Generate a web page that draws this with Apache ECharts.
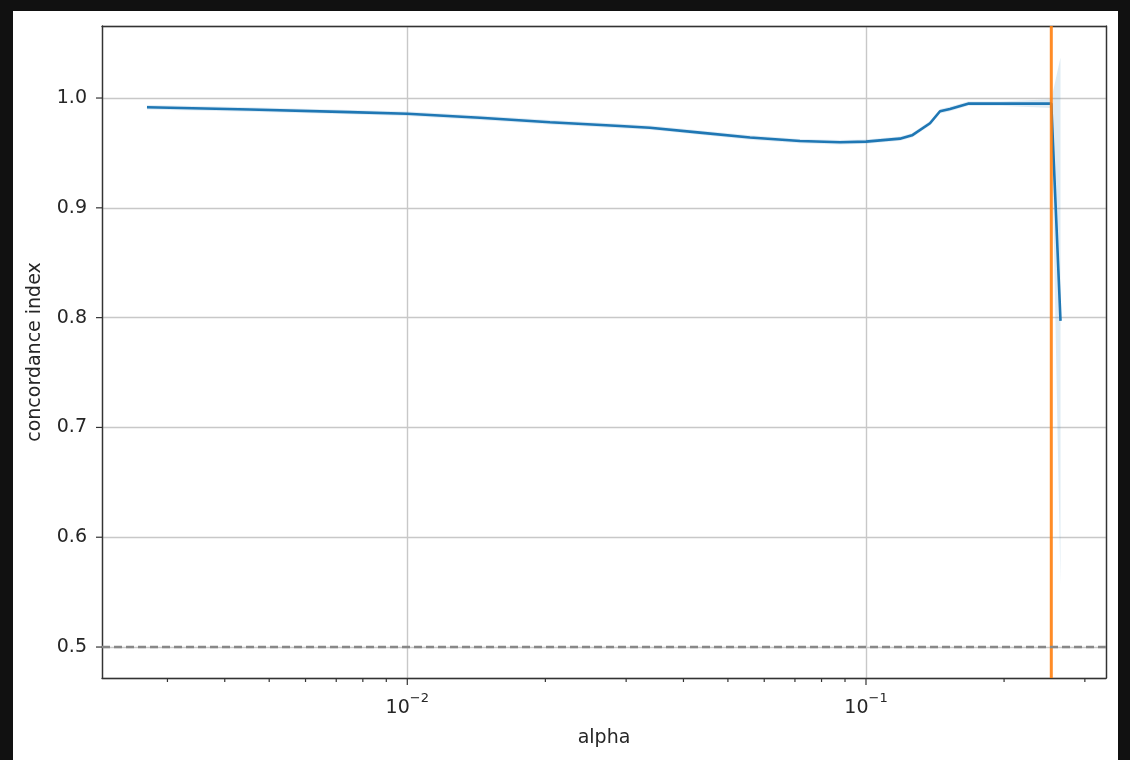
<!DOCTYPE html>
<html>
<head>
<meta charset="utf-8">
<script src="https://cdn.jsdelivr.net/npm/echarts@6/dist/echarts.min.js"></script>
<style>
  html, body { margin: 0; padding: 0; background: #111; }
  #main { position: absolute; left: 13px; top: 11px; width: 1105px; height: 749px; background: #fff; }
</style>
</head>
<body>
<div id="main"></div>
<script>
// concordance index vs. alpha (mean and std over CV folds)
var alphas = [0.002707, 0.00454, 0.0075, 0.01, 0.0144, 0.02047, 0.02909, 0.03381, 0.04345, 0.05587,
              0.07181, 0.08776, 0.1, 0.1186, 0.126, 0.1379, 0.145, 0.1524, 0.1669, 0.196, 0.2535, 0.2655];
var cindexMean = [0.9916, 0.9896, 0.9872, 0.9857, 0.982, 0.978, 0.9745, 0.973, 0.9685, 0.964,
                  0.9608, 0.9597, 0.9603, 0.963, 0.966, 0.977, 0.988, 0.990, 0.9949, 0.9949, 0.9949, 0.797];
var cindexStd = [0.002, 0.002, 0.002, 0.002, 0.002, 0.002, 0.002, 0.002, 0.002, 0.002,
                 0.002, 0.002, 0.002, 0.002, 0.002, 0.002, 0.002, 0.002, 0.002, 0.002, 0.004, 0.24];
var bestAlpha = 0.2535;
var chanceLevel = 0.5;

// axis ticks
var xMajorTicks = [0.01, 0.1];
var xMinorTicks = [0.003, 0.004, 0.005, 0.006, 0.007, 0.008, 0.009,
                   0.02, 0.03, 0.04, 0.05, 0.06, 0.07, 0.08, 0.09, 0.2, 0.3];
var yTicks = [0.5, 0.6, 0.7, 0.8, 0.9, 1.0];
var xMin = 0.00216, xMax = 0.3336;
var yMin = 0.4718, yMax = 1.0656;

var font = 'DejaVu Sans';
var textColor = '#262626';
var frameColor = '#333';

var chart = echarts.init(document.getElementById('main'));

var lineData = alphas.map(function (a, i) { return [a, cindexMean[i]]; });

var tickData = [];
xMajorTicks.forEach(function (t) { tickData.push([t, yMin, 7, 0]); });
xMinorTicks.forEach(function (t) { tickData.push([t, yMin, 4, 0]); });
yTicks.forEach(function (t) { tickData.push([xMin, t, 6, 1]); });

chart.setOption({
  animation: false,
  grid: { left: 89, top: 15, right: 12, bottom: 82 },
  xAxis: [{
    type: 'log',
    logBase: 10,
    min: xMin,
    max: xMax,
    name: 'alpha',
    nameLocation: 'middle',
    nameGap: 51,
    nameTextStyle: { fontFamily: font, fontSize: 19, color: textColor },
    axisLine: { show: true, onZero: false, lineStyle: { color: frameColor, width: 1.4 } },
    axisTick: { show: false },
    axisLabel: {
      margin: 14,
      showMinLabel: false,
      showMaxLabel: false,
      formatter: function (v) {
        var l = Math.log10(v);
        var e = Math.round(l);
        if (Math.abs(l - e) > 1e-6) return '';
        return '{b|10}{s|\u2212' + Math.abs(e) + '}';
      },
      rich: {
        b: { fontFamily: font, fontSize: 19, color: textColor, verticalAlign: 'bottom', lineHeight: 26 },
        s: { fontFamily: font, fontSize: 13, color: textColor, verticalAlign: 'top', lineHeight: 26 }
      }
    },
    splitLine: { show: true, lineStyle: { color: '#c8c8c8', width: 1.4 } }
  }, {
    type: 'log', logBase: 10, min: xMin, max: xMax, position: 'top',
    axisLine: { show: true, onZero: false, lineStyle: { color: frameColor, width: 1.4 } },
    axisTick: { show: false }, axisLabel: { show: false }, splitLine: { show: false }
  }],
  yAxis: [{
    type: 'value',
    min: yMin,
    max: yMax,
    splitNumber: 6,
    name: 'concordance index',
    nameLocation: 'middle',
    nameGap: 57,
    nameTextStyle: { fontFamily: font, fontSize: 19, color: textColor },
    axisLine: { show: true, lineStyle: { color: frameColor, width: 1.4 } },
    axisTick: { show: false },
    axisLabel: {
      margin: 15,
      fontFamily: font,
      fontSize: 19,
      color: textColor,
      showMinLabel: false,
      showMaxLabel: false,
      formatter: function (v) {
        if (Math.abs(v * 10 - Math.round(v * 10)) > 1e-6) return '';
        return v.toFixed(1);
      }
    },
    splitLine: { show: true, lineStyle: { color: '#c8c8c8', width: 1.4 } }
  }, {
    type: 'value', min: yMin, max: yMax, position: 'right',
    axisLine: { show: true, lineStyle: { color: frameColor, width: 1.4 } },
    axisTick: { show: false }, axisLabel: { show: false }, splitLine: { show: false }
  }],
  series: [
    {
      // std band
      type: 'custom',
      name: 'band',
      silent: true,
      z: 2,
      data: alphas.map(function (a, i) { return [a, cindexMean[i]]; }),
      renderItem: function (params, api) {
        if (params.dataIndex !== 0) return null;
        var pts = [];
        for (var i = 0; i < alphas.length; i++) {
          pts.push(api.coord([alphas[i], cindexMean[i] + cindexStd[i]]));
        }
        for (var j = alphas.length - 1; j >= 0; j--) {
          pts.push(api.coord([alphas[j], cindexMean[j] - cindexStd[j]]));
        }
        return { type: 'polygon', shape: { points: pts }, style: { fill: 'rgba(31,119,180,0.15)' } };
      }
    },
    {
      type: 'line',
      name: 'mean',
      data: lineData,
      showSymbol: false,
      z: 3,
      lineStyle: { color: '#1f77b4', width: 2.6 },
      markLine: {
        silent: true,
        symbol: 'none',
        label: { show: false },
        data: [
          { yAxis: chanceLevel, lineStyle: { color: '#888', width: 2.4, type: [8, 4] } }
        ]
      }
    },
    {
      // best alpha (vertical line over full height)
      type: 'line',
      name: 'best alpha',
      data: [[bestAlpha, yMin], [bestAlpha, yMax]],
      showSymbol: false,
      silent: true,
      z: 4,
      lineStyle: { color: '#ff7f0e', width: 3, opacity: 0.9 }
    },
    {
      // axis ticks drawn outward, like matplotlib
      type: 'custom',
      name: 'ticks',
      silent: true,
      clip: false,
      z: 5,
      data: tickData,
      renderItem: function (params, api) {
        var p = api.coord([api.value(0), api.value(1)]);
        var len = api.value(2);
        var shape = api.value(3) === 0
          ? { x1: p[0], y1: p[1], x2: p[0], y2: p[1] + len }
          : { x1: p[0] - len, y1: p[1], x2: p[0], y2: p[1] };
        return { type: 'line', shape: shape, style: { stroke: frameColor, lineWidth: 1.2 } };
      }
    }
  ]
});
</script>
</body>
</html>
